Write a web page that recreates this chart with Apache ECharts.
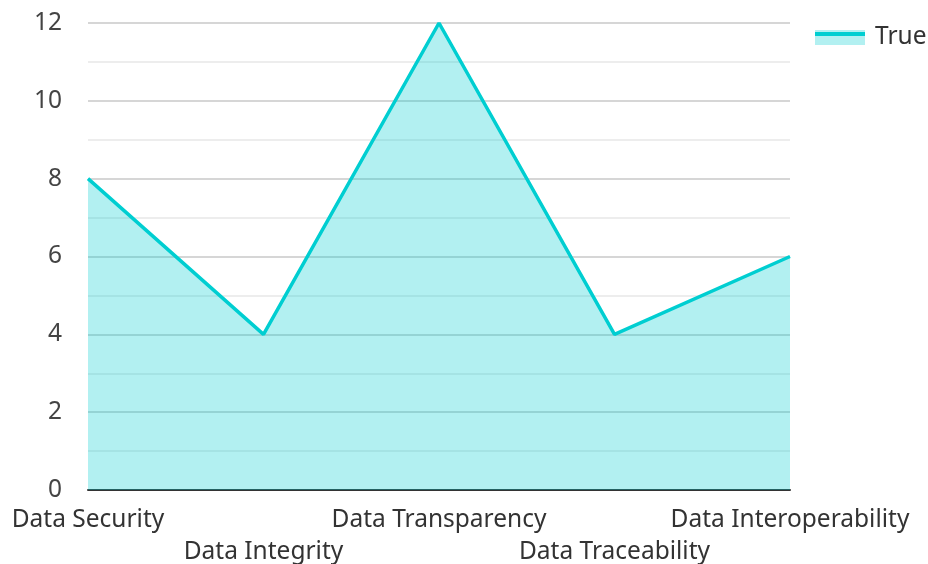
<!DOCTYPE html>
<html>
<head>
<meta charset="utf-8">
<script src="https://cdn.jsdelivr.net/npm/echarts@6/dist/echarts.min.js"></script>
<style>
  html, body { margin: 0; padding: 0; background: #fff; }
  #chart { width: 928px; height: 564px; }
</style>
</head>
<body>
<div id="chart"></div>
<script>
const categories = ['Data Security', 'Data Integrity', 'Data Transparency', 'Data Traceability', 'Data Interoperability']
const values = [8, 4, 12, 4, 6]
const seriesName = 'True'

const lineColor = '#00CED1'
const areaColor = 'rgba(0, 206, 209, 0.3)'
const font = 'Noto Sans'

const myChart = echarts.init(document.getElementById('chart'))
let option = {
  textStyle: { fontFamily: font },
  grid: {
    left: 88,
    right: 138,
    top: 23,
    bottom: 74,
    outerBoundsMode: 'none'
  },
  legend: {
    data: [seriesName],
    left: 815,
    top: 25,
    padding: 0,
    icon: 'rect',
    itemWidth: 50,
    itemHeight: 15,
    itemGap: 10,
    itemStyle: { color: areaColor },
    textStyle: { fontSize: 24.5, color: '#333', fontFamily: font, padding: [0, 0, 6, 5] }
  },
  // line stripe on top of the legend swatch
  graphic: [
    {
      type: 'rect',
      left: 815,
      top: 32,
      shape: { width: 50, height: 4 },
      style: { fill: lineColor },
      silent: true
    }
  ],
  xAxis: {
    type: 'category',
    data: categories,
    boundaryGap: false,
    axisLine: { lineStyle: { color: '#333', width: 2 } },
    axisTick: { show: false },
    axisLabel: {
      interval: 0,
      fontSize: 24.5,
      color: '#333',
      margin: 14,
      lineHeight: 32,
      formatter: (v, i) => (i % 2 ? '\n' + v : v)
    }
  },
  yAxis: {
    type: 'value',
    min: 0,
    max: 12,
    interval: 2,
    axisLine: { show: false },
    axisTick: { show: false },
    axisLabel: { fontSize: 24.5, color: '#444', margin: 26, padding: [5, 0, 0, 0] },
    splitLine: { lineStyle: { color: '#c8c8c8', width: 1.5 } },
    minorTick: { show: false, splitNumber: 2 },
    minorSplitLine: { show: true, lineStyle: { color: '#e8e8e8', width: 1.5 } }
  },
  series: [
    {
      name: seriesName,
      type: 'line',
      data: values,
      symbol: 'none',
      lineStyle: { color: lineColor, width: 3.5 },
      itemStyle: { color: lineColor },
      areaStyle: { color: areaColor, opacity: 1 },
      z: 1
    }
  ]
}
myChart.setOption(option)
</script>
</body>
</html>
